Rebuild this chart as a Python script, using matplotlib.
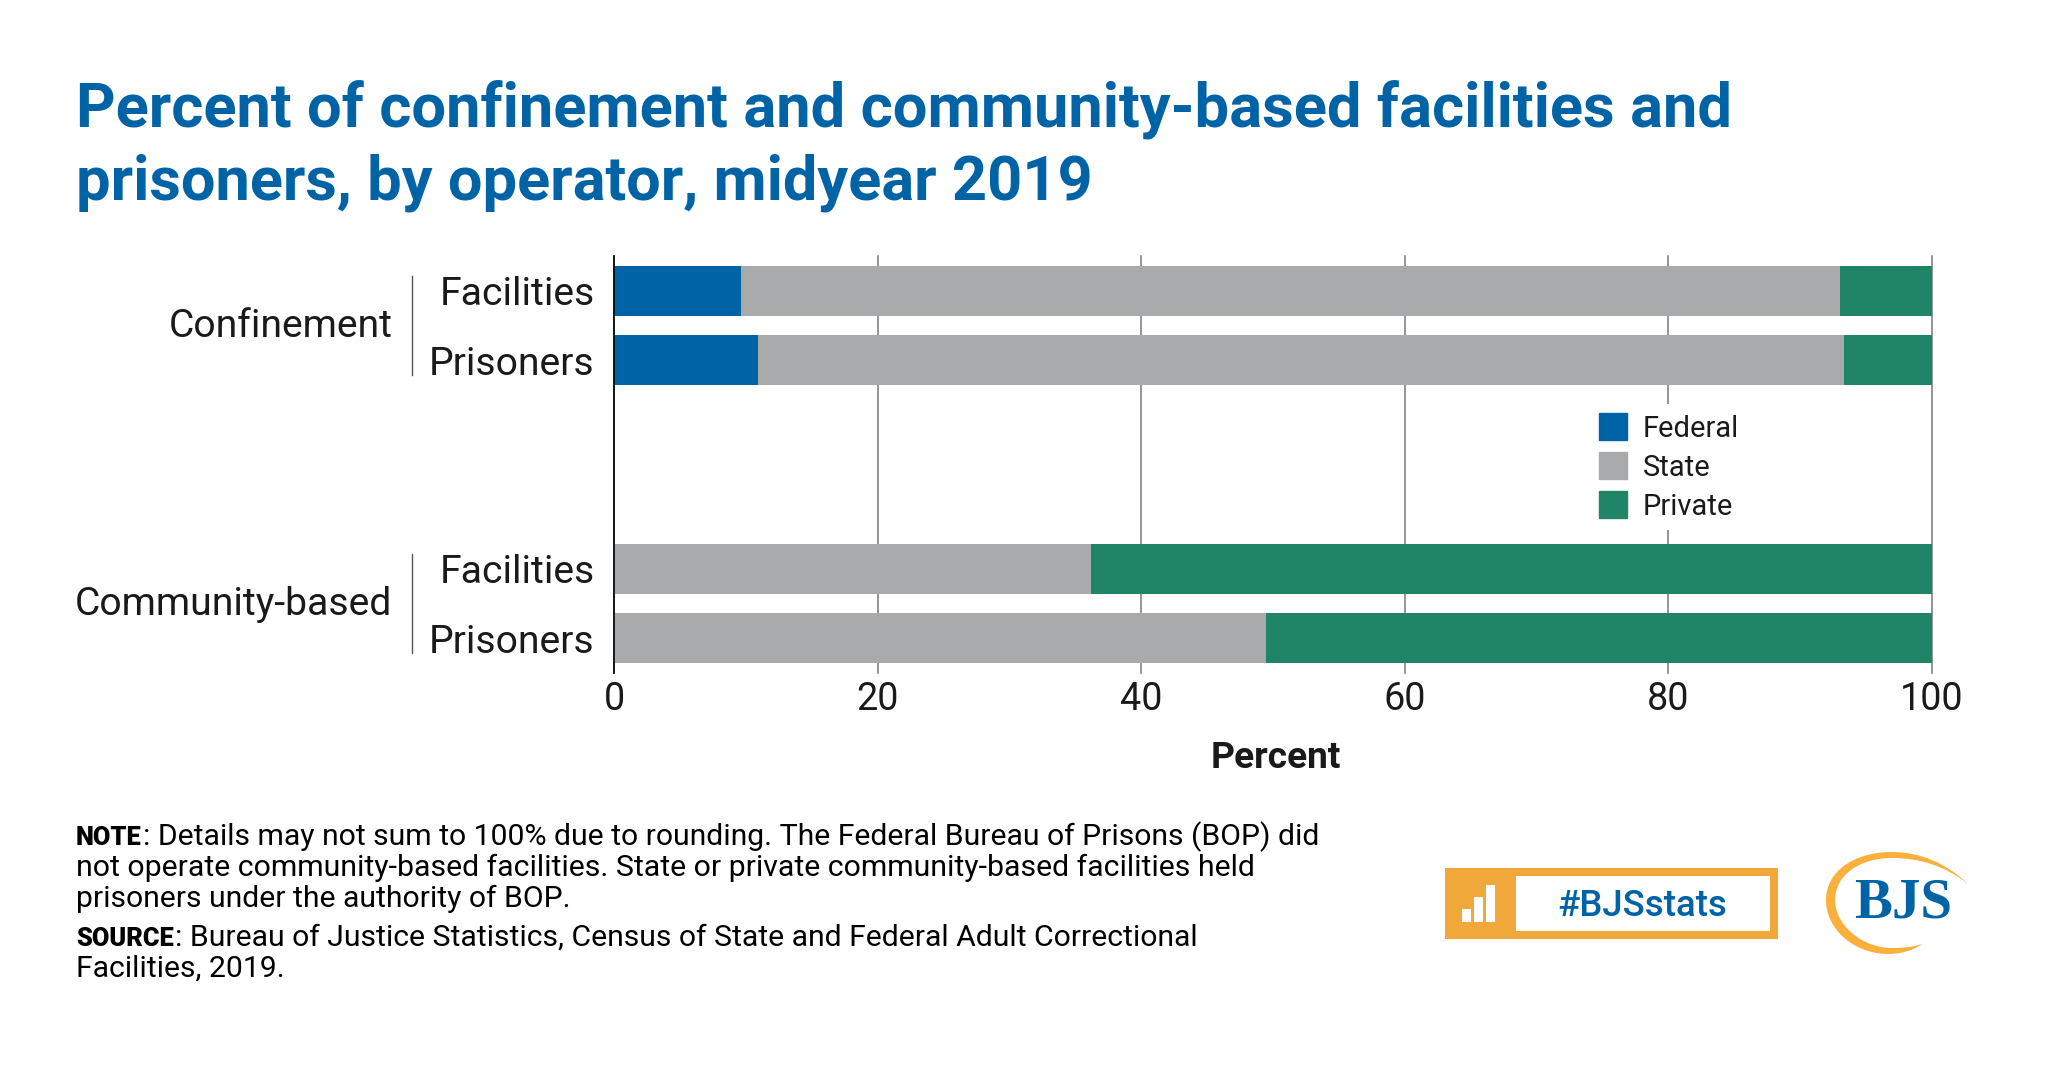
import matplotlib
matplotlib.use("Agg")
import matplotlib.pyplot as plt
from matplotlib.patches import Patch, PathPatch, Rectangle
from matplotlib.path import Path
from matplotlib.transforms import ScaledTranslation
import numpy as np

groups = ["Confinement", "Community-based"]
categories = ["Facilities", "Prisoners", "Facilities", "Prisoners"]
row_positions = [0, 1, 4, 5]
group_rows = [(0, 1), (4, 5)]
federal = [9.6, 10.9, 0, 0]
state = [83.4, 82.4, 36.2, 49.5]
private = [7.0, 6.7, 63.8, 50.5]
x_ticks = [0, 20, 40, 60, 80, 100]

title = "Percent of confinement and community-based facilities and\nprisoners, by operator, midyear 2019"
note_lines = [
    "Details may not sum to 100% due to rounding. The Federal Bureau of Prisons (BOP) did",
    "not operate community-based facilities. State or private community-based facilities held",
    "prisoners under the authority of BOP.",
]
source_lines = [
    "Bureau of Justice Statistics, Census of State and Federal Adult Correctional",
    "Facilities, 2019.",
]

BLUE = "#0063A5"
GREY = "#A9AAAC"
GREEN = "#1F8566"
BADGE = "#F0A83A"
SWOOSH = "#FBB03B"
TEXT = "#1A1A1A"
W, H = 2048, 1070

plt.rcParams["font.family"] = ["Roboto", "DejaVu Sans"]

fig = plt.figure(figsize=(W / 100, H / 100), dpi=100, facecolor="white")
ax = fig.add_axes([614 / W, 1 - 673 / H, (1932 - 614) / W, (673 - 256) / H])

# stacked bars
y = np.array(row_positions)
left = np.zeros(4)
for vals, col in [(federal, BLUE), (state, GREY), (private, GREEN)]:
    ax.barh(y, vals, left=left, height=0.72, color=col, linewidth=0, zorder=3)
    left = left + np.array(vals)

ax.set_xlim(0, 100)
ax.set_ylim(5.5, -0.5)
ax.set_xticks(x_ticks)
ax.set_yticks(row_positions)
ax.set_yticklabels(categories)
ax.tick_params(axis="x", length=0, pad=6, labelsize=27.2, labelcolor=TEXT)
ax.tick_params(axis="y", length=0, pad=14, labelsize=28.2, labelcolor=TEXT)
ax.set_xlabel("Percent", fontsize=26.7, fontweight="bold", color=TEXT, labelpad=15.5)
ax.xaxis.label.set_x(0.502)
ax.grid(axis="x", color="#777777", linewidth=1.1, zorder=1)
for gl in ax.get_xgridlines():
    gl.set_clip_on(False)
for s in ["top", "right", "bottom"]:
    ax.spines[s].set_visible(False)
ax.spines["left"].set_color("black")
ax.spines["left"].set_linewidth(1.2)
ax.spines["left"].set_zorder(5)

# group labels and their dividers
trans = ax.get_yaxis_transform()
nudge = ScaledTranslation(0, -0.8 / 100, fig.dpi_scale_trans)
for name, (r0, r1) in zip(groups, group_rows):
    ax.text(-221.5 / 1318, (r0 + r1) / 2, name, transform=trans + nudge, ha="right", va="center",
            fontsize=28.2, color=TEXT)
    ax.plot([-202 / 1318] * 2, [r0 - 0.21, r1 + 0.21], transform=trans, color="#555555",
            linewidth=1, clip_on=False)

handles = [Patch(color=BLUE, label="Federal"), Patch(color=GREY, label="State"),
           Patch(color=GREEN, label="Private")]
leg = ax.legend(handles=handles, loc="upper left", bbox_to_anchor=(975 / 1318, 1 - 147.5 / 417),
                fontsize=21, frameon=True, framealpha=1, facecolor="white", edgecolor="none",
                fancybox=False, borderpad=0.34, borderaxespad=0, handlelength=0.96,
                handleheight=1.05, handletextpad=0.55, labelspacing=0.32)
leg.set_zorder(2)
for t in leg.get_texts():
    t.set_color(TEXT)

# everything else is placed in pixels on an overlay
ov = fig.add_axes([0, 0, 1, 1], facecolor="none")
ov.set_xlim(0, W)
ov.set_ylim(H, 0)
ov.axis("off")

ov.text(76, 127, title.split("\n")[0], fontsize=44.3, fontweight="bold", color=BLUE, va="baseline")
ov.text(76, 199.5, title.split("\n")[1], fontsize=44.2, fontweight="bold", color=BLUE, va="baseline")


def lead_in(ypos, word, first):
    head = ov.text(76, ypos, word, fontsize=18.3, fontweight="black", color="black", va="baseline")
    fig.canvas.draw()
    box = head.get_window_extent()
    ov.text(box.x1 + 1, ypos, ": " + first, fontsize=21.7, color="black", va="baseline")


lead_in(845, "NOTE", note_lines[0])
ov.text(76, 876, note_lines[1], fontsize=21.75, color="black", va="baseline")
ov.text(76, 907, note_lines[2], fontsize=21.7, color="black", va="baseline")
lead_in(946, "SOURCE", source_lines[0])
ov.text(76, 977, source_lines[1], fontsize=21.7, color="black", va="baseline")

# #BJSstats badge
ov.add_patch(Rectangle((1452, 872), 322, 63, facecolor="white", edgecolor=BADGE, linewidth=5.8))
ov.add_patch(Rectangle((1445, 868), 71, 71, facecolor=BADGE, linewidth=0))
for x0, top in [(1462, 909), (1474, 897), (1486, 885)]:
    ov.add_patch(Rectangle((x0, top), 8.5, 922 - top, facecolor="white", linewidth=0))
ov.text(1642, 903, "#BJSstats", fontsize=26.4, fontweight="medium", color=BLUE, ha="center",
        va="center_baseline")

# BJS logo
verts = [(1968, 884),
         (1945, 862), (1918, 852), (1892, 852),
         (1853, 852), (1826, 872), (1826, 900),
         (1826, 930), (1855, 954), (1888, 954),
         (1902, 954), (1914, 950), (1922, 944),
         (1913, 947), (1903, 948), (1892, 948),
         (1862, 948), (1835, 925), (1835, 900),
         (1835, 875), (1860, 858), (1892, 858),
         (1920, 858), (1945, 866), (1968, 884),
         (1968, 884)]
codes = [Path.MOVETO] + [Path.CURVE4] * 24 + [Path.CLOSEPOLY]
ov.add_patch(PathPatch(Path(verts, codes), facecolor=SWOOSH, linewidth=0))
ov.text(1903, 917, "BJS", family="Liberation Serif", fontweight="bold", fontsize=41, color=BLUE,
        ha="center", va="baseline")

fig.savefig("out.png", dpi=100, facecolor="white")
